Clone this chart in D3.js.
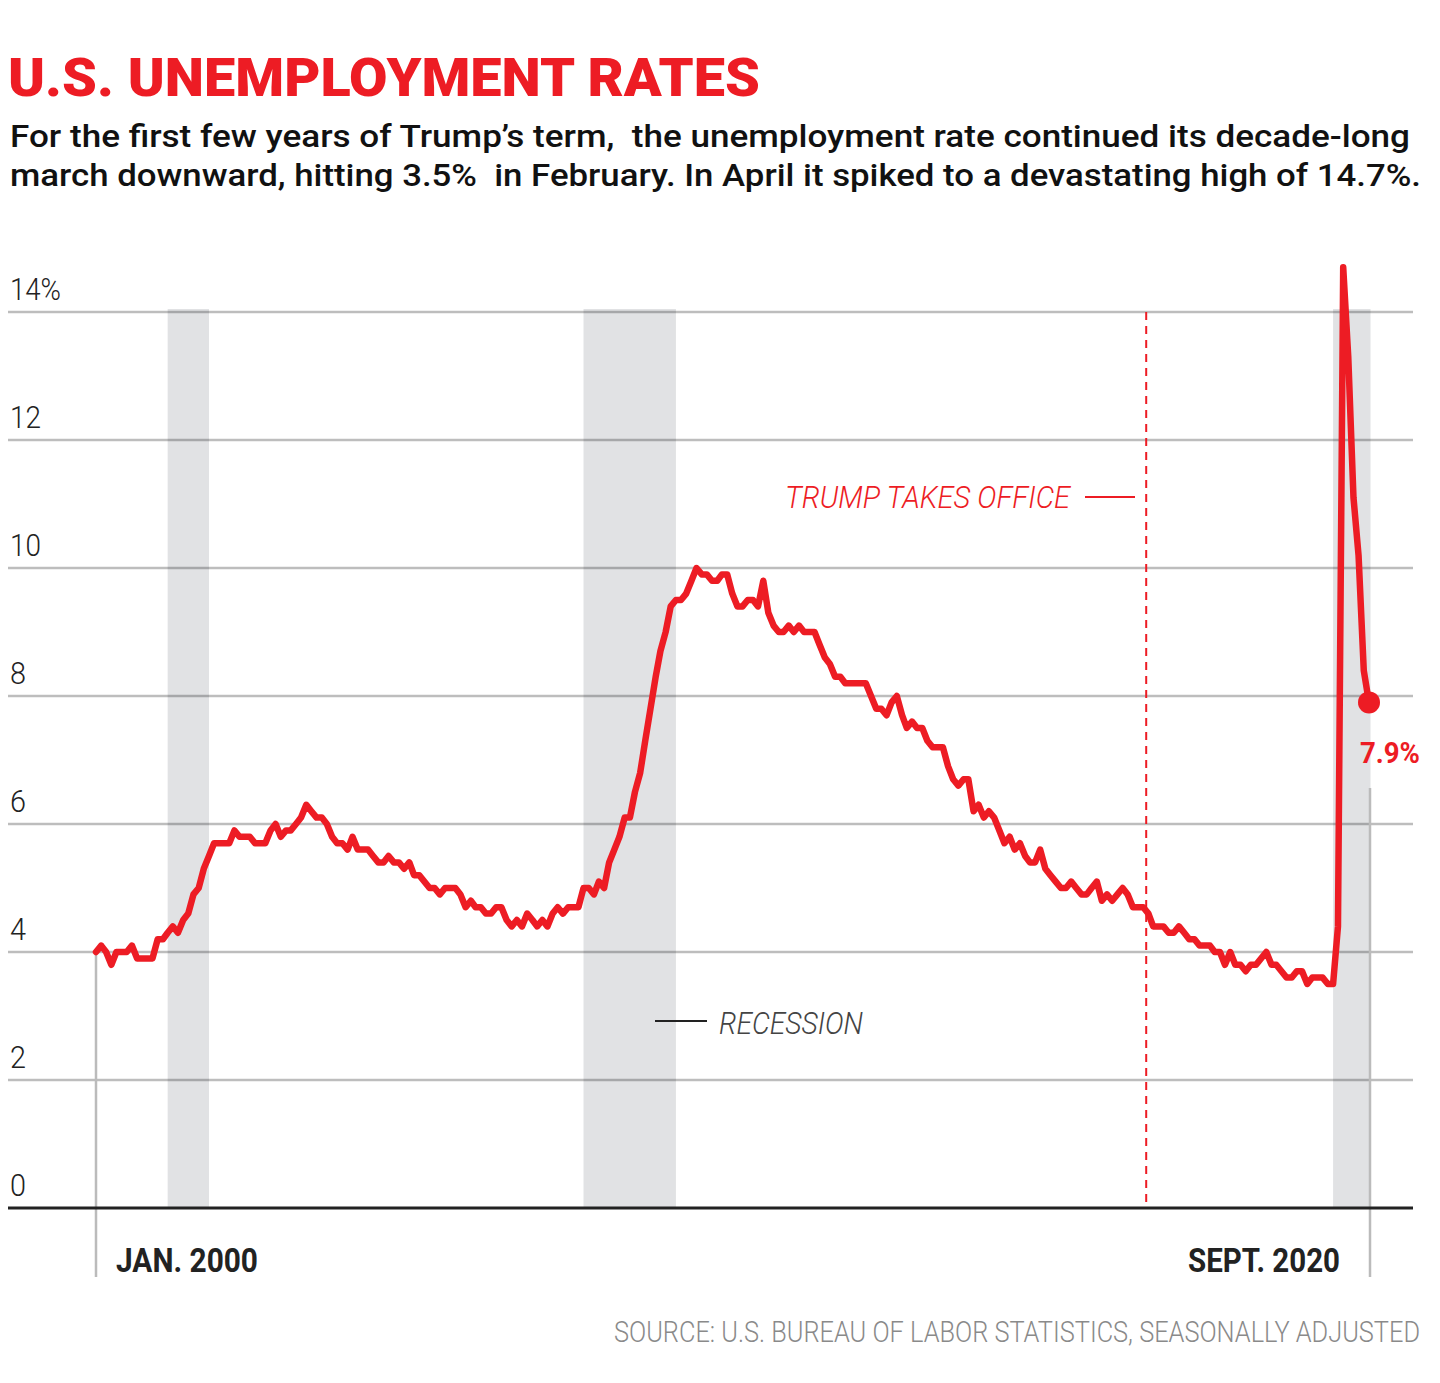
<!DOCTYPE html>
<html>
<head>
<meta charset="utf-8">
<script src="https://cdn.jsdelivr.net/npm/d3@7"></script>
<style>
  body { margin: 0; background: #fff; }
  svg { display: block; }
  text { font-family: Roboto, sans-serif; }
</style>
</head>
<body>
<div id="chart"></div>
<script>
// monthly unemployment rate, Jan 2000 .. Sept 2020 (BLS, seasonally adjusted)
var rates = [
  4.0,4.1,4.0,3.8,4.0,4.0,4.0,4.1,3.9,3.9,3.9,3.9,   // 2000
  4.2,4.2,4.3,4.4,4.3,4.5,4.6,4.9,5.0,5.3,5.5,5.7,   // 2001
  5.7,5.7,5.7,5.9,5.8,5.8,5.8,5.7,5.7,5.7,5.9,6.0,   // 2002
  5.8,5.9,5.9,6.0,6.1,6.3,6.2,6.1,6.1,6.0,5.8,5.7,   // 2003
  5.7,5.6,5.8,5.6,5.6,5.6,5.5,5.4,5.4,5.5,5.4,5.4,   // 2004
  5.3,5.4,5.2,5.2,5.1,5.0,5.0,4.9,5.0,5.0,5.0,4.9,   // 2005
  4.7,4.8,4.7,4.7,4.6,4.6,4.7,4.7,4.5,4.4,4.5,4.4,   // 2006
  4.6,4.5,4.4,4.5,4.4,4.6,4.7,4.6,4.7,4.7,4.7,5.0,   // 2007
  5.0,4.9,5.1,5.0,5.4,5.6,5.8,6.1,6.1,6.5,6.8,7.3,   // 2008
  7.8,8.3,8.7,9.0,9.4,9.5,9.5,9.6,9.8,10.0,9.9,9.9,  // 2009
  9.8,9.8,9.9,9.9,9.6,9.4,9.4,9.5,9.5,9.4,9.8,9.3,   // 2010
  9.1,9.0,9.0,9.1,9.0,9.1,9.0,9.0,9.0,8.8,8.6,8.5,   // 2011
  8.3,8.3,8.2,8.2,8.2,8.2,8.2,8.0,7.8,7.8,7.7,7.9,   // 2012
  8.0,7.7,7.5,7.6,7.5,7.5,7.3,7.2,7.2,7.2,6.9,6.7,   // 2013
  6.6,6.7,6.7,6.2,6.3,6.1,6.2,6.1,5.9,5.7,5.8,5.6,   // 2014
  5.7,5.5,5.4,5.4,5.6,5.3,5.2,5.1,5.0,5.0,5.1,5.0,   // 2015
  4.9,4.9,5.0,5.1,4.8,4.9,4.8,4.9,5.0,4.9,4.7,4.7,   // 2016
  4.7,4.6,4.4,4.4,4.4,4.3,4.3,4.4,4.3,4.2,4.2,4.1,   // 2017
  4.1,4.1,4.0,4.0,3.8,4.0,3.8,3.8,3.7,3.8,3.8,3.9,   // 2018
  4.0,3.8,3.8,3.7,3.6,3.6,3.7,3.7,3.5,3.6,3.6,3.6,   // 2019
  3.5,3.5,4.4,14.7,13.3,11.1,10.2,8.4,7.9            // 2020
];
var startMonth = "2000-01";
var recessions = [["2001-03","2001-11"],["2007-12","2009-06"],["2020-02","2020-09-10"]];
var yTicks = [0,2,4,6,8,10,12,14];
var inaugural = "2017-01";

var parse = d3.timeParse("%Y-%m");
var parseDay = d3.timeParse("%Y-%m-%d");
function toDate(s){ return parse(s) || parseDay(s); }

var t0 = toDate(startMonth);
var data = rates.map(function(v, i){ return {date: d3.timeMonth.offset(t0, i), value: v}; });
var last = data[data.length-1];

var width = 1440, height = 1383;
var svg = d3.select("#chart").append("svg")
    .attr("width", width).attr("height", height);

var x = d3.scaleTime().domain([t0, last.date]).range([96, 1369]);
var y = d3.scaleLinear().domain([0, 14]).range([1208, 312]);

var red = "#ed1c24";

// squeezes text to a given width, stands in for the condensed face
function fit(sel, w){
    return sel.attr("textLength", w).attr("lengthAdjust", "spacingAndGlyphs");
}

// title + dek
fit(svg.append("text")
    .attr("x", 8).attr("y", 96)
    .style("font-weight", 900)
    .style("font-size", "53px")
    .attr("fill", red)
    .text("U.S. UNEMPLOYMENT RATES"), 752);

var dek = [["For the first few years of Trump\u2019s term,  the unemployment rate continued its decade-long", 1400],
           ["march downward, hitting 3.5%  in February. In April it spiked to a devastating high of 14.7%.", 1411]];
svg.selectAll(".dek").data(dek).enter().append("text")
    .attr("class", "dek")
    .attr("x", 10).attr("y", function(d, i){ return 147 + i*39; })
    .attr("textLength", function(d){ return d[1]; })
    .attr("lengthAdjust", "spacingAndGlyphs")
    .style("font-weight", 500)
    .style("font-size", "31px")
    .style("white-space", "pre")
    .attr("fill", "#111")
    .text(function(d){ return d[0]; });

// recession bands
svg.selectAll(".rec").data(recessions).enter().append("rect")
    .attr("class", "rec")
    .attr("x", function(d){ return x(toDate(d[0])); })
    .attr("width", function(d){ return x(toDate(d[1])) - x(toDate(d[0])); })
    .attr("y", 309).attr("height", 1208 - 309)
    .attr("fill", "#e1e2e4");

// gridlines
svg.selectAll(".grid").data(yTicks.filter(function(d){ return d > 0; })).enter().append("line")
    .attr("class", "grid")
    .attr("x1", 8).attr("x2", 1413)
    .attr("y1", function(d){ return y(d); }).attr("y2", function(d){ return y(d); })
    .attr("stroke", "#000").attr("stroke-opacity", 0.26).attr("stroke-width", 2.5);

svg.selectAll(".ylab").data(yTicks).enter().append("text")
    .attr("class", "ylab")
    .attr("x", 10).attr("y", function(d){ return y(d) - 12; })
    .attr("textLength", function(d){ return d === 14 ? 51 : (d >= 10 ? 31 : 16); })
    .attr("lengthAdjust", "spacingAndGlyphs")
    .style("font-size", "31px").style("font-weight", 300).attr("fill", "#222")
    .text(function(d){ return d === 14 ? d + "%" : d; });

// start / end ticks
svg.append("line")
    .attr("x1", x(t0)).attr("x2", x(t0))
    .attr("y1", y(data[0].value)).attr("y2", 1277)
    .attr("stroke", "#bbb").attr("stroke-width", 2.5);
svg.append("line")
    .attr("x1", x(last.date)+1).attr("x2", x(last.date)+1)
    .attr("y1", 788).attr("y2", 1277)
    .attr("stroke", "#bbb").attr("stroke-width", 2.5);

// baseline
svg.append("line")
    .attr("x1", 8).attr("x2", 1413).attr("y1", y(0)).attr("y2", y(0))
    .attr("stroke", "#222").attr("stroke-width", 3);

// trump dashed line
var xi = x(toDate(inaugural)) + 3;
svg.append("line")
    .attr("x1", xi).attr("x2", xi).attr("y1", 312).attr("y2", 1207)
    .attr("stroke", red).attr("stroke-width", 2).attr("stroke-dasharray", "8,6");
svg.append("line")
    .attr("x1", 1085).attr("x2", 1135).attr("y1", 497).attr("y2", 497)
    .attr("stroke", red).attr("stroke-width", 2);
fit(svg.append("text")
    .attr("x", 785).attr("y", 508)
    .style("font-size", "32px").style("font-style", "italic").style("font-weight", 300)
    .attr("fill", red)
    .text("TRUMP TAKES OFFICE"), 285);

// recession label
svg.append("line")
    .attr("x1", 655).attr("x2", 707).attr("y1", 1021).attr("y2", 1021)
    .attr("stroke", "#222").attr("stroke-width", 2);
fit(svg.append("text")
    .attr("x", 719).attr("y", 1034)
    .style("font-size", "32px").style("font-style", "italic").style("font-weight", 300)
    .attr("fill", "#444")
    .text("RECESSION"), 144);

// the line
var line = d3.line()
    .x(function(d){ return x(d.date); })
    .y(function(d){ return y(d.value); });
svg.append("path")
    .datum(data)
    .attr("d", line)
    .attr("fill", "none").attr("stroke", red)
    .attr("stroke-width", 6.5).attr("stroke-linejoin", "round").attr("stroke-linecap", "round");

svg.append("circle")
    .attr("cx", x(last.date)).attr("cy", y(last.value)).attr("r", 11)
    .attr("fill", red);
fit(svg.append("text")
    .attr("x", 1360).attr("y", 763)
    .style("font-weight", 700)
    .style("font-size", "29px")
    .attr("fill", red)
    .text(d3.format(".1f")(last.value) + "%"), 60);

// x labels
fit(svg.append("text")
    .attr("x", 116).attr("y", 1272)
    .style("font-size", "33px").style("font-weight", 700)
    .attr("fill", "#222")
    .text("JAN. 2000"), 142);
fit(svg.append("text")
    .attr("x", 1188).attr("y", 1272)
    .style("font-size", "33px").style("font-weight", 700)
    .attr("fill", "#222")
    .text("SEPT. 2020"), 152);

// source
fit(svg.append("text")
    .attr("x", 614).attr("y", 1342)
    .style("font-size", "29px").style("font-weight", 300)
    .attr("fill", "#8a8a8a")
    .text("SOURCE: U.S. BUREAU OF LABOR STATISTICS, SEASONALLY ADJUSTED"), 806);
</script>
</body>
</html>
